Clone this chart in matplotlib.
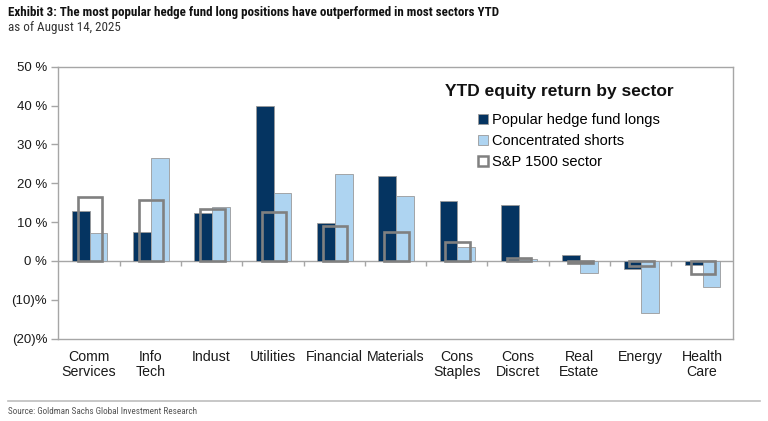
import matplotlib
matplotlib.use("Agg")
import matplotlib.pyplot as plt
from matplotlib.lines import Line2D
import numpy as np

# data (YTD return, %)
sectors = ["Comm\nServices", "Info\nTech", "Indust", "Utilities", "Financial", "Materials",
           "Cons\nStaples", "Cons\nDiscret", "Real\nEstate", "Energy", "Health\nCare"]
hf_longs = [12.8, 7.4, 12.3, 39.8, 9.8, 21.9, 15.4, 14.5, 1.6, -2.0, -1.0]
conc_shorts = [7.1, 26.4, 13.8, 17.5, 22.4, 16.8, 3.6, 0.5, -3.2, -13.3, -6.6]
sp1500 = [16.5, 15.7, 13.5, 12.6, 9.0, 7.4, 5.0, 0.8, -0.4, -1.4, -3.4]
yticks = [-20, -10, 0, 10, 20, 30, 40, 50]
ytick_labels = ["(20)%", "(10)%", "0 %", "10 %", "20 %", "30 %", "40 %", "50 %"]

NAVY = "#053461"
LIGHT = "#aed4f1"
GRAY = "#808080"
SPINE = "#a6a6a6"
NARROW = ["Roboto Condensed", "DejaVu Sans"]
SANS = ["Liberation Sans", "DejaVu Sans"]

fig = plt.figure(figsize=(7.68, 4.21), dpi=100)
ax = fig.add_axes([0.0759, 0.1955, 0.8782, 0.6461])

x = np.arange(len(sectors))
bw = 0.29
ax.bar(x - 0.135, hf_longs, bw, color=NAVY, edgecolor="#9a9a9a", linewidth=0.6, zorder=2)
ax.bar(x + 0.155, conc_shorts, bw, color=LIGHT, edgecolor="#9a9a9a", linewidth=0.6, zorder=2)
ax.bar(x + 0.015, sp1500, 0.40, facecolor="none", edgecolor=GRAY, linewidth=1.9, zorder=3)

ax.set_xlim(-0.5, len(sectors) - 0.5)
ax.set_ylim(-20, 50)
ax.axhline(0, color=SPINE, linewidth=1.0, zorder=1)
# small ticks on the zero line between categories
ax.vlines(x[:-1] + 0.5, -1.3, 0, color=SPINE, linewidth=1.0, zorder=1)

ax.set_yticks(yticks)
ax.set_yticklabels(ytick_labels, family=SANS, fontsize=9.5, color="#1a1a1a")
ax.tick_params(axis="y", length=5, width=1, color=SPINE, pad=3)
ax.set_xticks(x)
ax.set_xticklabels(sectors, family=SANS, fontsize=10.2, color="#1a1a1a", linespacing=1.1)
ax.tick_params(axis="x", length=0, pad=8)
for s in ax.spines.values():
    s.set_color(SPINE)
    s.set_linewidth(1.0)

handles = [
    Line2D([], [], marker="s", linestyle="none", markersize=7, markerfacecolor=NAVY, markeredgecolor="#9a9a9a", markeredgewidth=0.6),
    Line2D([], [], marker="s", linestyle="none", markersize=7, markerfacecolor=LIGHT, markeredgecolor="#9a9a9a", markeredgewidth=0.6),
    Line2D([], [], marker="s", linestyle="none", markersize=6.5, markerfacecolor="white", markeredgecolor=GRAY, markeredgewidth=1.8),
]
leg = ax.legend(handles, ["Popular hedge fund longs", "Concentrated shorts", "S&P 1500 sector"],
                loc="upper left", bbox_to_anchor=(0.615, 0.85), frameon=False,
                prop={"family": SANS, "size": 10.5}, handlelength=0.6, handletextpad=0.3,
                labelspacing=0.46, borderaxespad=0)
fig.text(0.7285, 0.782, "YTD equity return by sector", family=SANS, fontsize=12.5,
         fontweight="bold", ha="center", va="center", color="#111111")

fig.text(0.011, 0.97, "Exhibit 3: The most popular hedge fund long positions have outperformed in most sectors YTD",
         family=NARROW, fontsize=9.35, fontweight="bold", ha="left", va="center", color="#111111")
fig.text(0.011, 0.935, "as of August 14, 2025", family=NARROW, fontsize=9.35,
         ha="left", va="center", color="#333333")
fig.add_artist(Line2D([0.011, 0.99], [0.048, 0.048], color="#bdbdbd", linewidth=1.2))
fig.text(0.011, 0.022, "Source: Goldman Sachs Global Investment Research", family=NARROW,
         fontsize=6.6, ha="left", va="center", color="#555555")

fig.savefig("out.png", dpi=100)
